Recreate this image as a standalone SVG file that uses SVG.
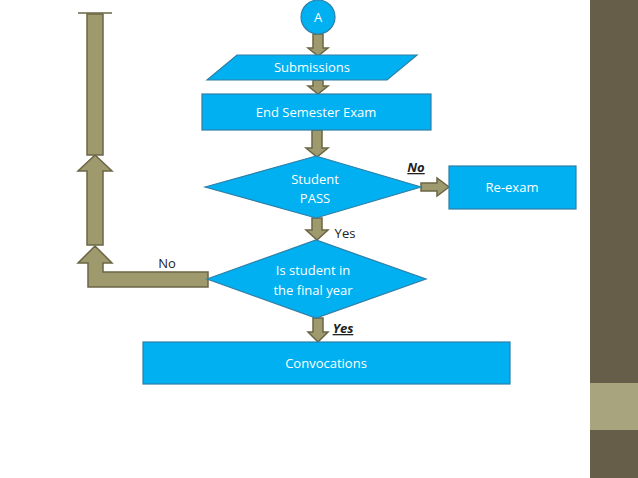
<svg xmlns="http://www.w3.org/2000/svg" width="638" height="478" viewBox="0 0 638 478">
<style>
.n{fill:#00B0F0;stroke:#2E7FA8;stroke-width:1.2}
.a{fill:#9E9A6E;stroke:#6B6545;stroke-width:1.5}
text{font-family:"Open Sans","Liberation Sans",sans-serif;font-size:13px;fill:#fff;text-anchor:middle}
.k{fill:#222}
</style>
<rect width="638" height="478" fill="#fff"/>
<rect x="590" y="0" width="48" height="478" fill="#665E48"/>
<rect x="590" y="383" width="48" height="47" fill="#A8A47E"/>
<g id="connectors">
<path class="a" d="M313,34H323V48H328L318,56L308,48H313Z"/>
<path class="a" d="M313,80H323V86H328L318,94L308,86H313Z"/>
<path class="a" d="M312,130H322V148H328L317,157L306,148H312Z"/>
<path class="a" d="M421,183H437V178L449,187L437,196V191H421Z"/>
<path class="a" d="M312,218H322V230H328L317,240L306,230H312Z"/>
<path class="a" d="M313,318H323V332H328L318,342L308,332H313Z"/>
<path class="a" d="M208,272V287H88V263H78L95,246L112,263H103V272Z"/>
<path class="a" d="M87,245V171H78L95,155L112,171H103V245Z"/>
<path class="a" d="M87,155V14H103V155Z"/>
<line x1="78" y1="13" x2="112" y2="13" stroke="#6B6545" stroke-width="1.5"/>
<text class="k" x="416" y="172" font-weight="bold" font-style="italic" text-decoration="underline">No</text>
<text class="k" x="345" y="238">Yes</text>
<text class="k" x="167" y="268">No</text>
<text class="k" x="343" y="333" font-weight="bold" font-style="italic" text-decoration="underline">Yes</text>
</g>
<g id="a"><circle class="n" cx="318" cy="17" r="17"/><text x="318" y="22">A</text></g>
<g id="submissions"><path class="n" d="M207,80L237,55H417L387,80Z"/><text x="312" y="72">Submissions</text></g>
<g id="exam"><rect class="n" x="202" y="94" width="229" height="36"/><text x="316" y="117">End Semester Exam</text></g>
<g id="pass"><path class="n" d="M205,187L316,156L421,187L316,218Z"/><text x="315" y="184">Student</text><text x="315" y="203">PASS</text></g>
<g id="reexam"><rect class="n" x="449" y="166" width="127" height="43"/><text x="512" y="192">Re-exam</text></g>
<g id="final"><path class="n" d="M207,279L316,240L426,279L316,318Z"/><text x="313" y="275">Is student  in</text><text x="313" y="295">the final year</text></g>
<g id="convocations"><rect class="n" x="143" y="342" width="367" height="42"/><text x="326" y="368">Convocations</text></g>
</svg>
